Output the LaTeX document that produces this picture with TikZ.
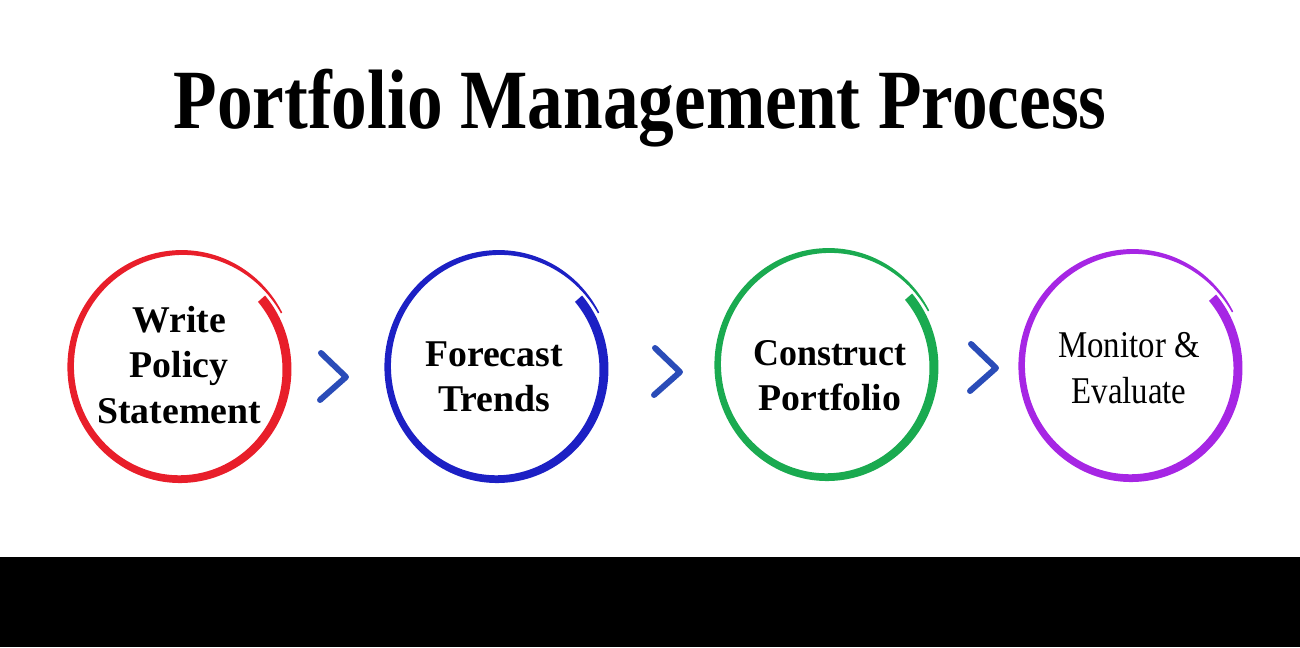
\documentclass[tikz,border=0pt]{standalone}
\usepackage{fontspec}
\setmainfont{Liberation Serif}
\usetikzlibrary{calc}
\definecolor{ringred}{RGB}{232,30,42}
\definecolor{ringblue}{RGB}{28,32,196}
\definecolor{ringgreen}{RGB}{26,170,80}
\definecolor{ringpurple}{RGB}{166,38,228}
\definecolor{chevblue}{RGB}{42,76,184}
% brush stroke ring: mid radius grows, width tapers towards the tail
\newcommand{\brushring}[2]{%
  \begin{scope}[shift={(#1)}]
    \fill[#2] plot[domain=0:1,samples=160,smooth] ({(105+9*\x+(9.5-5*\x-3*\x^10)/2)*cos(40-372*\x)},{(108+9*\x+(9.5-5*\x-3*\x^10)/2)*sin(40-372*\x)})
      -- plot[domain=1:0,samples=160,smooth] ({(105+9*\x-(9.5-5*\x-3*\x^10)/2)*cos(40-372*\x)},{(108+9*\x-(9.5-5*\x-3*\x^10)/2)*sin(40-372*\x)}) -- cycle;
  \end{scope}}

\begin{document}
\begin{tikzpicture}[x=0.02cm,y=0.02cm,
    steptext/.style={align=center,font=\fontsize{21.5}{25.8}\selectfont\bfseries},
    chev/.style={draw=chevblue,line width=3.4pt,line cap=round,line join=round}]
            \useasboundingbox (0,0) rectangle (1300,647);
            \fill[black] (0,0) rectangle (1300,90);
            \node[anchor=base] (T) at (640,519) {\fontsize{48}{50}\selectfont\bfseries\scalebox{0.845}[1]{Portfolio Management Process}};
            \coordinate (R_1) at (181,279);
            \coordinate (R_2) at (498,279);
            \coordinate (R_3) at (828,281);
            \coordinate (R_4) at (1132,280);
            \brushring{R_1}{ringred}
            \brushring{R_2}{ringblue}
            \brushring{R_3}{ringgreen}
            \brushring{R_4}{ringpurple}
            \node[steptext] (N_1) at (179,282) {Write\\Policy\\Statement};
            \node[steptext] (N_2) at (494,270) {Forecast\\Trends};
            \node[steptext] (N_3) at (830,271.5) {\scalebox{0.95}[1]{Construct}\\Portfolio};
            \node[steptext] (N_4) at (1129,275.6) {\mdseries\scalebox{0.87}[1]{\begin{tabular}{@{}c@{}}Monitor \&\\Evaluate\end{tabular}}};
            \coordinate (A_1) at (346,270);
            \coordinate (A_2) at (680,275);
            \coordinate (A_3) at (996,279);
            \draw[chev] ($(A_1)+(-25,24)$)--(A_1)--($(A_1)+(-26,-23)$);
            \draw[chev] ($(A_2)+(-25,24)$)--(A_2)--($(A_2)+(-26,-23)$);
            \draw[chev] ($(A_3)+(-25,24)$)--(A_3)--($(A_3)+(-26,-23)$);
    \end{tikzpicture}
\end{document}
